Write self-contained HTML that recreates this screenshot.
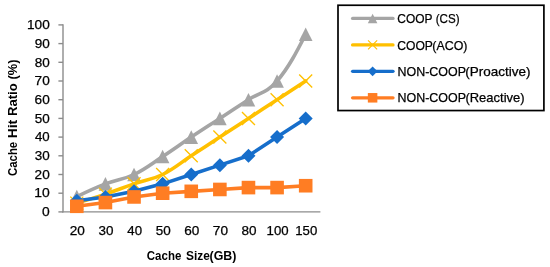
<!DOCTYPE html>
<html lang="en">
<head>
<meta charset="utf-8">
<title>Cache Hit Ratio vs Cache Size</title>
<style>
html,body{margin:0;padding:0;background:#fff;}
body{width:550px;height:267px;overflow:hidden;}
svg{display:block;}
text{font-family:"Liberation Sans", sans-serif;fill:#000;white-space:pre;}
.t{stroke:#000;stroke-width:0.25px;}
.t{font-size:12.6px;}
.b{font-size:13.7px;font-weight:bold;}
</style>
</head>
<body>
<svg width="550" height="267" viewBox="0 0 550 267">
<rect width="550" height="267" fill="#fff"/>
<g stroke="#8C8C8C" stroke-width="1.4" fill="none">
<line x1="63.0" y1="24.20" x2="63.0" y2="212.60"/>
<line x1="62.3" y1="211.9" x2="320.4" y2="211.9"/>
<line x1="58.4" y1="211.90" x2="63.0" y2="211.90"/>
<line x1="58.4" y1="193.20" x2="63.0" y2="193.20"/>
<line x1="58.4" y1="174.50" x2="63.0" y2="174.50"/>
<line x1="58.4" y1="155.80" x2="63.0" y2="155.80"/>
<line x1="58.4" y1="137.10" x2="63.0" y2="137.10"/>
<line x1="58.4" y1="118.40" x2="63.0" y2="118.40"/>
<line x1="58.4" y1="99.70" x2="63.0" y2="99.70"/>
<line x1="58.4" y1="81.00" x2="63.0" y2="81.00"/>
<line x1="58.4" y1="62.30" x2="63.0" y2="62.30"/>
<line x1="58.4" y1="43.60" x2="63.0" y2="43.60"/>
<line x1="58.4" y1="24.90" x2="63.0" y2="24.90"/>
</g>
<text class="t" y="216.10"><tspan x="42.03" textLength="7.71" lengthAdjust="spacingAndGlyphs">0</tspan></text>
<text class="t" y="197.40"><tspan x="34.25" textLength="15.50" lengthAdjust="spacingAndGlyphs">10</tspan></text>
<text class="t" y="178.70"><tspan x="34.62" textLength="15.12" lengthAdjust="spacingAndGlyphs">20</tspan></text>
<text class="t" y="160.00"><tspan x="34.80" textLength="14.94" lengthAdjust="spacingAndGlyphs">30</tspan></text>
<text class="t" y="141.30"><tspan x="35.00" textLength="14.73" lengthAdjust="spacingAndGlyphs">40</tspan></text>
<text class="t" y="122.60"><tspan x="34.76" textLength="14.97" lengthAdjust="spacingAndGlyphs">50</tspan></text>
<text class="t" y="103.90"><tspan x="34.62" textLength="15.12" lengthAdjust="spacingAndGlyphs">60</tspan></text>
<text class="t" y="85.20"><tspan x="34.62" textLength="15.12" lengthAdjust="spacingAndGlyphs">70</tspan></text>
<text class="t" y="66.50"><tspan x="34.73" textLength="15.01" lengthAdjust="spacingAndGlyphs">80</tspan></text>
<text class="t" y="47.80"><tspan x="34.69" textLength="15.05" lengthAdjust="spacingAndGlyphs">90</tspan></text>
<text class="t" y="29.10"><tspan x="27.03" textLength="22.69" lengthAdjust="spacingAndGlyphs">100</tspan></text>
<text class="t" y="235.30"><tspan x="69.78" textLength="15.12" lengthAdjust="spacingAndGlyphs">20</tspan></text>
<text class="t" y="235.30"><tspan x="98.56" textLength="14.94" lengthAdjust="spacingAndGlyphs">30</tspan></text>
<text class="t" y="235.30"><tspan x="127.38" textLength="14.73" lengthAdjust="spacingAndGlyphs">40</tspan></text>
<text class="t" y="235.30"><tspan x="155.75" textLength="14.97" lengthAdjust="spacingAndGlyphs">50</tspan></text>
<text class="t" y="235.30"><tspan x="184.22" textLength="15.12" lengthAdjust="spacingAndGlyphs">60</tspan></text>
<text class="t" y="235.30"><tspan x="212.83" textLength="15.12" lengthAdjust="spacingAndGlyphs">70</tspan></text>
<text class="t" y="235.30"><tspan x="241.55" textLength="15.01" lengthAdjust="spacingAndGlyphs">80</tspan></text>
<text class="t" y="235.30"><tspan x="266.64" textLength="22.00" lengthAdjust="spacingAndGlyphs">100</tspan></text>
<text class="t" y="235.30"><tspan x="295.26" textLength="22.00" lengthAdjust="spacingAndGlyphs">150</tspan></text>
<text class="b" y="259.60"><tspan x="146.84" textLength="34.45" lengthAdjust="spacingAndGlyphs">Cache</tspan> <tspan x="186.07" textLength="23.83" lengthAdjust="spacingAndGlyphs">Size</tspan><tspan x="209.51" textLength="26.89" lengthAdjust="spacingAndGlyphs">(GB)</tspan></text>
<text class="b" y="0.00" transform="translate(17.0 175.5) rotate(-90)"><tspan x="-0.45" textLength="34.14" lengthAdjust="spacingAndGlyphs">Cache</tspan> <tspan x="37.20" textLength="18.55" lengthAdjust="spacingAndGlyphs">Hit</tspan> <tspan x="59.45" textLength="32.74" lengthAdjust="spacingAndGlyphs">Ratio</tspan> <tspan x="96.09" textLength="19.81" lengthAdjust="spacingAndGlyphs">(%)</tspan></text>
<g>
<path d="M76.81 196.57C85.39 192.41 93.97 188.26 105.42 183.85C116.86 179.44 122.58 179.96 134.03 174.50C145.47 169.04 151.19 164.03 162.64 156.55C174.08 149.07 179.81 144.73 191.25 137.10C202.69 129.47 208.42 125.88 219.86 118.40C231.31 110.92 237.03 107.18 248.47 99.70C259.92 92.22 265.64 94.09 277.08 81.00C288.53 67.91 297.11 51.08 305.69 34.25" fill="none" stroke="#A5A5A5" stroke-width="3.6" stroke-linejoin="round" stroke-linecap="round"/>
<polygon points="76.81,189.77 83.61,203.37 70.01,203.37" fill="#A5A5A5"/>
<polygon points="105.42,177.05 112.22,190.65 98.62,190.65" fill="#A5A5A5"/>
<polygon points="134.03,167.70 140.83,181.30 127.23,181.30" fill="#A5A5A5"/>
<polygon points="162.64,149.75 169.44,163.35 155.84,163.35" fill="#A5A5A5"/>
<polygon points="191.25,130.30 198.05,143.90 184.45,143.90" fill="#A5A5A5"/>
<polygon points="219.86,111.60 226.66,125.20 213.06,125.20" fill="#A5A5A5"/>
<polygon points="248.47,92.90 255.27,106.50 241.67,106.50" fill="#A5A5A5"/>
<polygon points="277.08,74.20 283.88,87.80 270.28,87.80" fill="#A5A5A5"/>
<polygon points="305.69,27.45 312.49,41.05 298.89,41.05" fill="#A5A5A5"/>
</g>
<g>
<path d="M76.81 203.11C85.39 200.55 93.97 197.99 105.42 194.13C116.86 190.28 122.58 187.78 134.03 183.85C145.47 179.92 151.19 180.11 162.64 174.50C174.08 168.89 179.81 163.28 191.25 155.80C202.69 148.32 208.42 144.58 219.86 137.10C231.31 129.62 237.03 125.88 248.47 118.40C259.92 110.92 265.64 107.18 277.08 99.70C288.53 92.22 297.11 86.61 305.69 81.00" fill="none" stroke="#FFC000" stroke-width="3.6" stroke-linejoin="round" stroke-linecap="round"/>
<path d="M70.31 196.61L83.31 209.61M70.31 209.61L83.31 196.61" stroke="#FFC000" stroke-width="1.35" fill="none"/>
<path d="M98.92 187.63L111.92 200.63M98.92 200.63L111.92 187.63" stroke="#FFC000" stroke-width="1.35" fill="none"/>
<path d="M127.53 177.35L140.53 190.35M127.53 190.35L140.53 177.35" stroke="#FFC000" stroke-width="1.35" fill="none"/>
<path d="M156.14 168.00L169.14 181.00M156.14 181.00L169.14 168.00" stroke="#FFC000" stroke-width="1.35" fill="none"/>
<path d="M184.75 149.30L197.75 162.30M184.75 162.30L197.75 149.30" stroke="#FFC000" stroke-width="1.35" fill="none"/>
<path d="M213.36 130.60L226.36 143.60M213.36 143.60L226.36 130.60" stroke="#FFC000" stroke-width="1.35" fill="none"/>
<path d="M241.97 111.90L254.97 124.90M241.97 124.90L254.97 111.90" stroke="#FFC000" stroke-width="1.35" fill="none"/>
<path d="M270.58 93.20L283.58 106.20M270.58 106.20L283.58 93.20" stroke="#FFC000" stroke-width="1.35" fill="none"/>
<path d="M299.19 74.50L312.19 87.50M299.19 87.50L312.19 74.50" stroke="#FFC000" stroke-width="1.35" fill="none"/>
</g>
<g>
<path d="M76.81 200.68L105.42 196.94L134.03 191.33L162.64 183.85L191.25 174.50L219.86 165.15L248.47 155.80L277.08 137.10L305.69 118.40" fill="none" stroke="#166ECB" stroke-width="3.6" stroke-linejoin="round" stroke-linecap="round"/>
<polygon points="76.81,193.68 83.81,200.68 76.81,207.68 69.81,200.68" fill="#166ECB"/>
<polygon points="105.42,189.94 112.42,196.94 105.42,203.94 98.42,196.94" fill="#166ECB"/>
<polygon points="134.03,184.33 141.03,191.33 134.03,198.33 127.03,191.33" fill="#166ECB"/>
<polygon points="162.64,176.85 169.64,183.85 162.64,190.85 155.64,183.85" fill="#166ECB"/>
<polygon points="191.25,167.50 198.25,174.50 191.25,181.50 184.25,174.50" fill="#166ECB"/>
<polygon points="219.86,158.15 226.86,165.15 219.86,172.15 212.86,165.15" fill="#166ECB"/>
<polygon points="248.47,148.80 255.47,155.80 248.47,162.80 241.47,155.80" fill="#166ECB"/>
<polygon points="277.08,130.10 284.08,137.10 277.08,144.10 270.08,137.10" fill="#166ECB"/>
<polygon points="305.69,111.40 312.69,118.40 305.69,125.40 298.69,118.40" fill="#166ECB"/>
</g>
<g>
<path d="M76.81 206.29L105.42 202.55L134.03 196.94L162.64 193.20L191.25 191.33L219.86 189.46L248.47 187.59L277.08 187.59L305.69 185.72" fill="none" stroke="#FF7D23" stroke-width="3.6" stroke-linejoin="round" stroke-linecap="round"/>
<rect x="70.01" y="199.49" width="13.60" height="13.60" fill="#FF7D23"/>
<rect x="98.62" y="195.75" width="13.60" height="13.60" fill="#FF7D23"/>
<rect x="127.23" y="190.14" width="13.60" height="13.60" fill="#FF7D23"/>
<rect x="155.84" y="186.40" width="13.60" height="13.60" fill="#FF7D23"/>
<rect x="184.45" y="184.53" width="13.60" height="13.60" fill="#FF7D23"/>
<rect x="213.06" y="182.66" width="13.60" height="13.60" fill="#FF7D23"/>
<rect x="241.67" y="180.79" width="13.60" height="13.60" fill="#FF7D23"/>
<rect x="270.28" y="180.79" width="13.60" height="13.60" fill="#FF7D23"/>
<rect x="298.89" y="178.92" width="13.60" height="13.60" fill="#FF7D23"/>
</g>
<rect x="338.0" y="5.25" width="205.9" height="105.3" fill="#fff" stroke="#000" stroke-width="1.7"/>
<line x1="352.6" y1="18.4" x2="393.0" y2="18.4" stroke="#A5A5A5" stroke-width="3.3" stroke-linecap="round"/>
<polygon points="372.60,13.64 377.36,23.16 367.84,23.16" fill="#A5A5A5"/>
<text class="t" y="23.20"><tspan x="397.31" textLength="34.91" lengthAdjust="spacingAndGlyphs">COOP</tspan> <tspan x="435.71" textLength="23.79" lengthAdjust="spacingAndGlyphs">(CS)</tspan></text>
<line x1="352.6" y1="44.9" x2="393.0" y2="44.9" stroke="#FFC000" stroke-width="3.3" stroke-linecap="round"/>
<path d="M368.05 40.35L377.15 49.45M368.05 49.45L377.15 40.35" stroke="#FFC000" stroke-width="1.11" fill="none"/>
<text class="t" y="49.50"><tspan x="397.29" textLength="35.64" lengthAdjust="spacingAndGlyphs">COOP</tspan><tspan x="432.36" textLength="35.09" lengthAdjust="spacingAndGlyphs">(ACO)</tspan></text>
<line x1="352.6" y1="71.3" x2="393.0" y2="71.3" stroke="#166ECB" stroke-width="3.3" stroke-linecap="round"/>
<polygon points="372.60,66.40 377.50,71.30 372.60,76.20 367.70,71.30" fill="#166ECB"/>
<text class="t" y="75.80"><tspan x="397.50" textLength="68.45" lengthAdjust="spacingAndGlyphs">NON-COOP</tspan><tspan x="465.39" textLength="65.21" lengthAdjust="spacingAndGlyphs">(Proactive)</tspan></text>
<line x1="352.6" y1="97.8" x2="393.0" y2="97.8" stroke="#FF7D23" stroke-width="3.3" stroke-linecap="round"/>
<rect x="367.84" y="93.04" width="9.52" height="9.52" fill="#FF7D23"/>
<text class="t" y="102.10"><tspan x="397.50" textLength="68.45" lengthAdjust="spacingAndGlyphs">NON-COOP</tspan><tspan x="465.42" textLength="59.15" lengthAdjust="spacingAndGlyphs">(Reactive)</tspan></text>
</svg>
</body>
</html>
